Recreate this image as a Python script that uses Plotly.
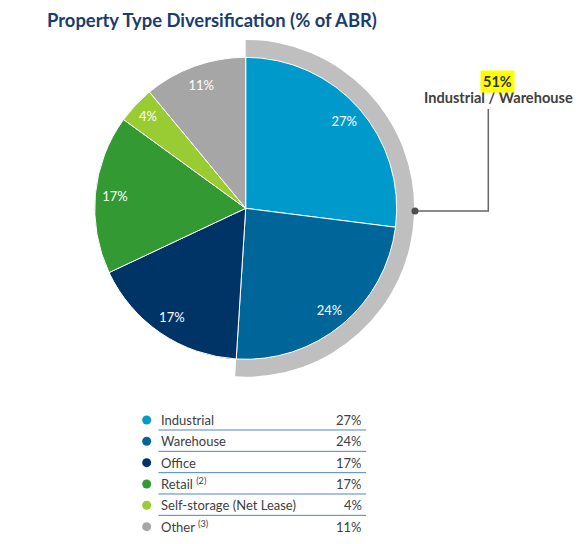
import plotly.graph_objects as go

# data
categories = ['Industrial', 'Warehouse', 'Office', 'Retail', 'Self-storage (Net Lease)', 'Other']
legend_labels = ['Industrial', 'Warehouse', 'Office', 'Retail <sup>(2)</sup>',
                 'Self-storage (Net Lease)', 'Other <sup>(3)</sup>']
shares = [27, 24, 17, 17, 4, 11]
colors = ['#0099CC', '#006699', '#003366', '#339933', '#99CC33', '#A6A6A6']
combined_label = 'Industrial / Warehouse'
combined_share = shares[0] + shares[1]

# page body adds an 8px margin, so the figure is drawn slightly smaller
OFF = 8
W, H = 586 - OFF, 544 - OFF
FONT = 'Lato'


# screen pixel -> paper helpers for layout placement
def px(x):
    return (x - OFF) / W


def py(y):
    return 1 - (y - OFF) / H


cx, cy = 245.7, 208.3   # pie centre (screen px)
r_in, r_out = 151, 168.4

fig = go.Figure()

# outer grey arc marking Industrial + Warehouse
fig.add_trace(go.Pie(
    values=[combined_share, 100 - combined_share],
    marker=dict(colors=['#BFBFBF', 'rgba(0,0,0,0)']),
    hole=r_in / r_out, sort=False, direction='clockwise', rotation=0,
    textinfo='none', hoverinfo='skip', showlegend=False,
    domain=dict(x=[px(cx - r_out), px(cx + r_out)], y=[py(cy + r_out), py(cy - r_out)]),
))

# main pie
fig.add_trace(go.Pie(
    labels=categories, values=shares,
    marker=dict(colors=colors, line=dict(color='white', width=1)),
    sort=False, direction='clockwise', rotation=0,
    textinfo='none', showlegend=False,
    domain=dict(x=[px(cx - r_in), px(cx + r_in)], y=[py(cy + r_in), py(cy - r_in)]),
))

# transparent ring carrying the slice labels near the rim
fig.add_trace(go.Pie(
    labels=categories, values=shares,
    marker=dict(colors=['rgba(0,0,0,0)'] * len(shares)),
    hole=0.74, sort=False, direction='clockwise', rotation=0,
    text=[f'{v}%' for v in shares], textinfo='text', textposition='inside',
    insidetextorientation='horizontal',
    insidetextfont=dict(color='white', size=13, family=FONT),
    hoverinfo='skip', showlegend=False,
    domain=dict(x=[px(cx - r_in), px(cx + r_in)], y=[py(cy + r_in), py(cy - r_in)]),
))

# legend table on a hidden axis
rows = list(range(len(categories)))
fig.add_trace(go.Scatter(
    x=[0.029] * len(rows), y=rows, mode='markers',
    marker=dict(color=colors, size=9), hoverinfo='skip', showlegend=False,
))
for i in rows:
    fig.add_annotation(x=0.084, y=i, xref='x', yref='y', text=legend_labels[i],
                       showarrow=False, xanchor='left', yanchor='middle',
                       font=dict(size=13, color='#404040', family=FONT))
    fig.add_annotation(x=0.975, y=i, xref='x', yref='y', text=f'{shares[i]}%',
                       showarrow=False, xanchor='right', yanchor='middle',
                       font=dict(size=13, color='#404040', family=FONT))
    if i < len(rows) - 1:
        fig.add_shape(type='line', xref='x', yref='y', x0=0.08, x1=0.983,
                      y0=i + 0.47, y1=i + 0.47, line=dict(color='#4A86C8', width=1))

# callout for Industrial / Warehouse
fig.add_shape(type='path', xref='paper', yref='paper',
              path=f'M {px(415)} {py(211)} L {px(488.3)} {py(211)} L {px(488.3)} {py(109)}',
              line=dict(color='#666666', width=1.5))
fig.add_shape(type='circle', xref='paper', yref='paper',
              x0=px(411.5), x1=px(418.5), y0=py(214.5), y1=py(207.5),
              fillcolor='#4D4D4D', line=dict(width=0))
fig.add_annotation(x=px(498.5), y=py(97), xref='paper', yref='paper',
                   xanchor='center', yanchor='middle',
                   text=f'<b>{combined_label}</b>', showarrow=False,
                   font=dict(size=14.6, color='#404040', family=FONT))
fig.add_annotation(x=px(497.5), y=py(81.5), xref='paper', yref='paper',
                   xanchor='center', yanchor='middle',
                   text=f'<b>{combined_share}%</b>', showarrow=False, bgcolor='#FFFF00',
                   borderpad=2, font=dict(size=14.5, color='#333333', family=FONT))

fig.update_layout(
    width=W, height=H,
    margin=dict(l=0, r=0, t=0, b=0),
    paper_bgcolor='white', plot_bgcolor='white',
    title=dict(text='<b>Property Type Diversification (% of ABR)</b>',
               x=px(47), xanchor='left', y=py(21), yanchor='middle',
               font=dict(size=18.4, color='#1B3C6E', family=FONT)),
    xaxis=dict(domain=[px(140), px(370)], range=[0, 1], visible=False, fixedrange=True),
    yaxis=dict(domain=[py(537.3), py(409.3)], range=[5.5, -0.5], visible=False, fixedrange=True),
)

fig.write_html('out.html')
